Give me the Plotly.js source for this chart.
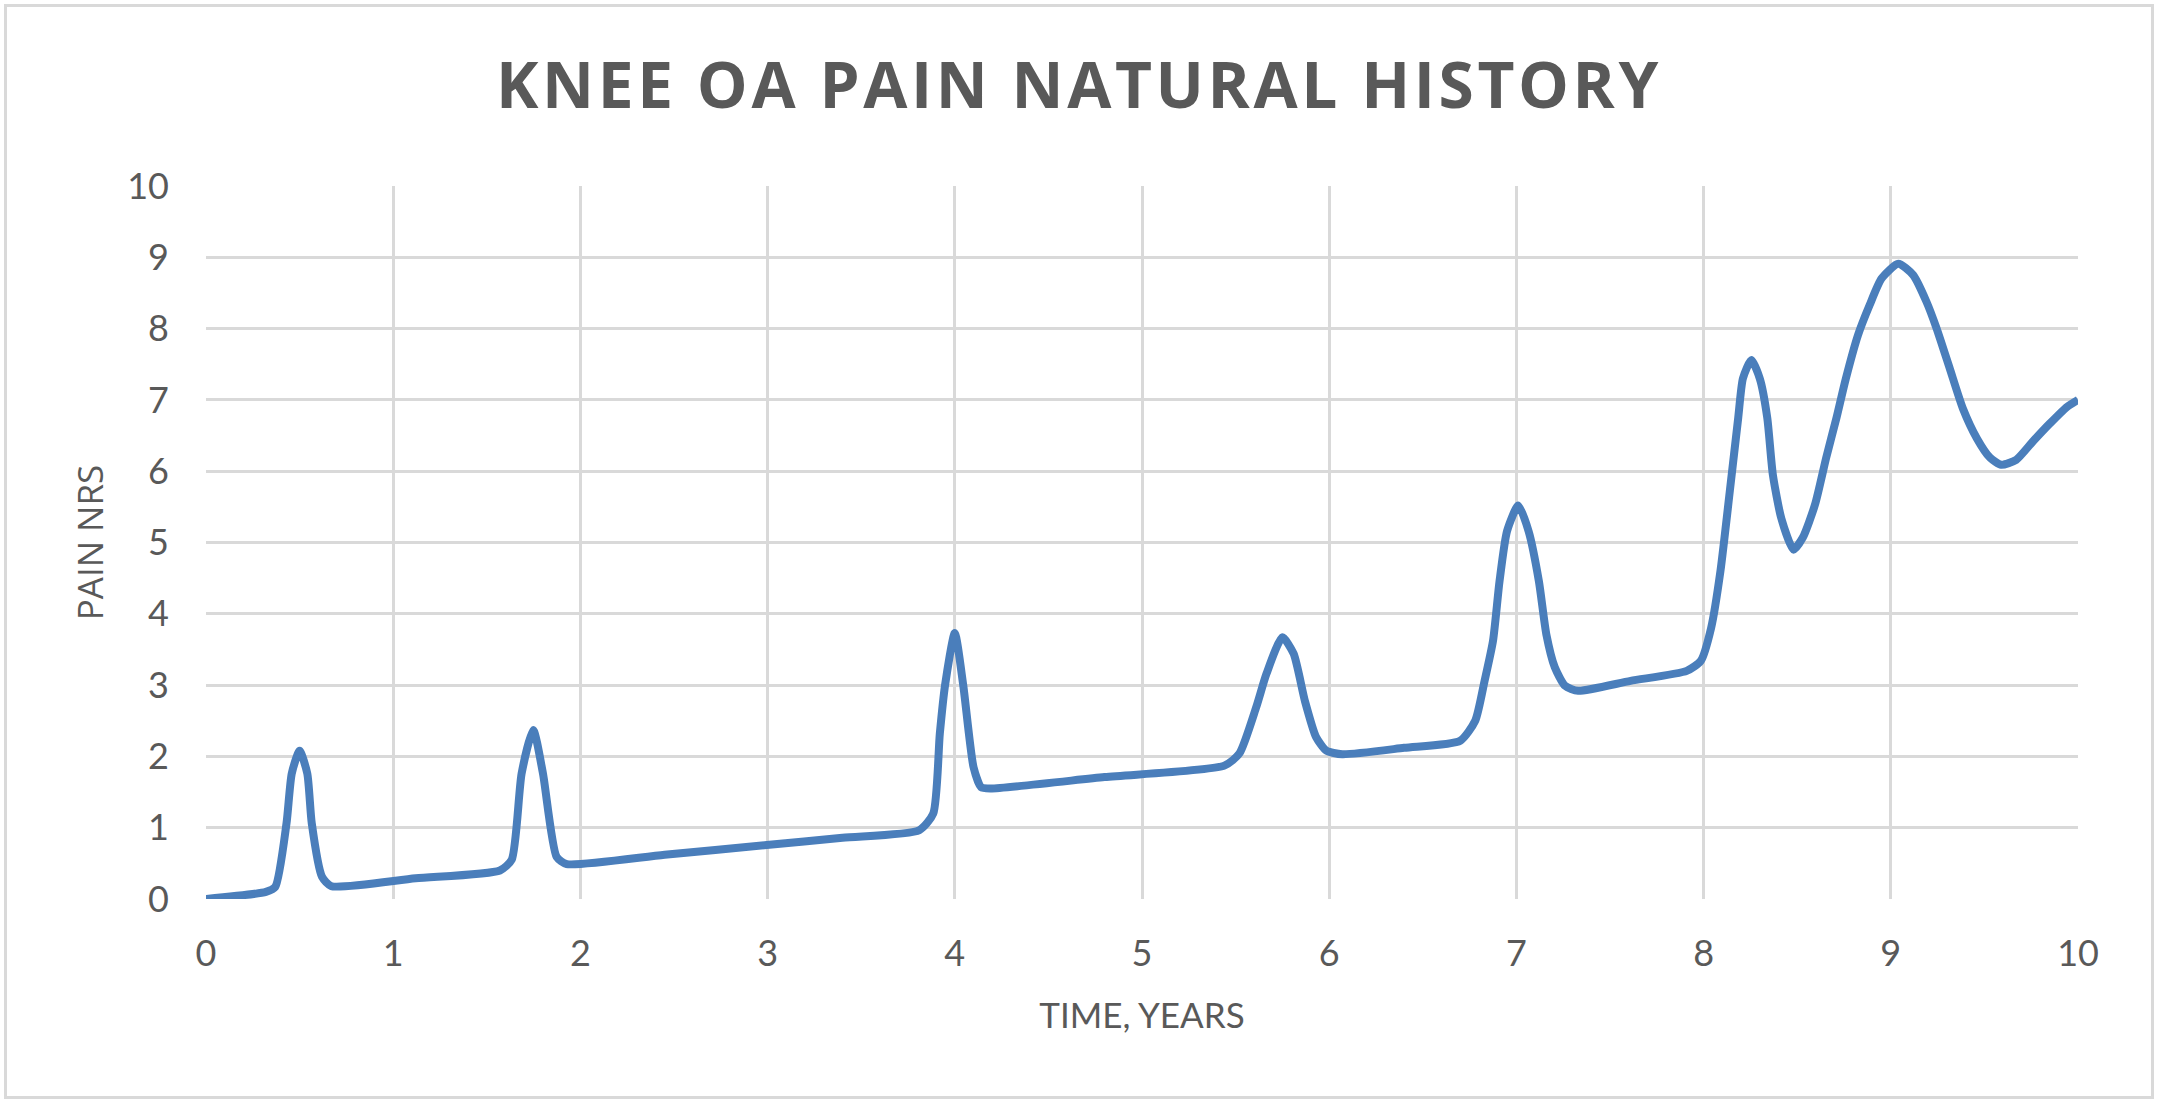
<!DOCTYPE html>
<html>
<head>
<meta charset="utf-8">
<script src="https://cdn.plot.ly/plotly-3.0.1.min.js"></script>
<style>
  html, body { margin: 0; padding: 0; background: #ffffff; }
  #frame {
    position: absolute; left: 4px; top: 4px;
    width: 2144px; height: 1089px;
    border: 3px solid #d9d9d9;
  }
  #chart { position: absolute; left: 0; top: 0; width: 2158px; height: 1100px; }
  .gtitle { letter-spacing: 3.6px; }
</style>
</head>
<body>
<div id="frame"></div>
<div id="chart"></div>
<script>
// Time (years) and pain NRS values
const timeYears = [
  0, 0.32, 0.37, 0.43, 0.458, 0.50, 0.541, 0.565, 0.62, 0.67,
  1.12, 1.57, 1.633, 1.686, 1.748, 1.80, 1.873, 1.927,
  2.45, 2.995, 3.40, 3.81, 3.885, 3.92, 3.948, 4.0, 4.045, 4.10, 4.14, 4.19,
  4.80, 5.44, 5.52, 5.61, 5.665, 5.75, 5.81, 5.87, 5.93, 5.985, 6.07,
  6.40, 6.70, 6.78, 6.83, 6.875, 6.91, 6.95, 7.01, 7.065, 7.12, 7.16, 7.205, 7.26, 7.33,
  7.61, 7.91, 7.985, 8.04, 8.09, 8.14, 8.185, 8.21, 8.255, 8.30, 8.34, 8.37, 8.415, 8.48,
  8.53, 8.595, 8.655, 8.71, 8.76, 8.825, 8.887, 8.95, 9.04, 9.12, 9.19, 9.245, 9.315,
  9.385, 9.46, 9.53, 9.59, 9.67, 9.76, 9.85, 9.94, 10.0
];
const painNRS = [
  0.0, 0.10, 0.17, 1.06, 1.76, 2.08, 1.76, 1.06, 0.31, 0.18,
  0.29, 0.40, 0.55, 1.76, 2.37, 1.76, 0.59, 0.49,
  0.62, 0.757, 0.86, 0.965, 1.2, 2.32, 3.0, 3.73, 3.0, 1.85, 1.57, 1.55,
  1.71, 1.87, 2.04, 2.69, 3.16, 3.67, 3.44, 2.78, 2.27, 2.08, 2.03,
  2.12, 2.22, 2.50, 3.06, 3.62, 4.46, 5.16, 5.52, 5.16, 4.46, 3.71, 3.25, 2.99, 2.92,
  3.06, 3.20, 3.34, 3.80, 4.60, 5.72, 6.75, 7.30, 7.56, 7.30, 6.75, 5.95, 5.34, 4.90,
  5.07, 5.53, 6.19, 6.75, 7.30, 7.91, 8.33, 8.70, 8.91, 8.75, 8.38, 8.00, 7.44,
  6.88, 6.46, 6.19, 6.09, 6.16, 6.42, 6.67, 6.90, 7.0
];
const xTickValues = [0, 1, 2, 3, 4, 5, 6, 7, 8, 9, 10];
const yTickValues = [0, 1, 2, 3, 4, 5, 6, 7, 8, 9, 10];

const chartTitle = 'KNEE OA PAIN NATURAL HISTORY';
const xTitle = 'TIME, YEARS';
const yTitle = 'PAIN NRS';

const textColor = '#595959';
const gridColor = '#d9d9d9';

const trace = {
  x: timeYears,
  y: painNRS,
  type: 'scatter',
  mode: 'lines',
  line: { color: '#4a7ebb', width: 8, shape: 'spline', smoothing: 0.6 },
  hoverinfo: 'x+y',
  showlegend: false
};

const layout = {
  width: 2158,
  height: 1100,
  paper_bgcolor: 'rgba(0,0,0,0)',
  plot_bgcolor: '#ffffff',
  margin: { l: 206, r: 80, t: 186, b: 201, pad: 0 },
  title: {
    text: '<b>' + chartTitle + '</b>',
    font: { family: 'Open Sans', size: 64, color: textColor },
    xref: 'container', x: 0.5, xanchor: 'center',
    yref: 'container', y: 1 - 86 / 1100, yanchor: 'middle'
  },
  xaxis: {
    range: [0, 10],
    tickvals: xTickValues,
    ticktext: xTickValues.map(String),
    showgrid: true, gridcolor: gridColor, gridwidth: 3,
    zeroline: false, showline: false, ticks: '',
    ticklabelstandoff: 30,
    tickfont: { family: 'Lato', size: 36, color: textColor },
    title: { text: xTitle, font: { family: 'Lato', size: 35, color: textColor }, standoff: 30 },
    fixedrange: true
  },
  yaxis: {
    range: [0, 10],
    tickvals: yTickValues,
    ticktext: yTickValues.map(String),
    showgrid: true, gridcolor: gridColor, gridwidth: 3,
    zeroline: false, showline: false, ticks: '',
    ticklabelstandoff: 36,
    tickfont: { family: 'Lato', size: 36, color: textColor },
    title: { text: yTitle, font: { family: 'Open Sans', size: 35, color: textColor }, standoff: 12 },
    fixedrange: true
  }
};

Plotly.newPlot('chart', [trace], layout, { displayModeBar: false, staticPlot: true });
</script>
</body>
</html>
